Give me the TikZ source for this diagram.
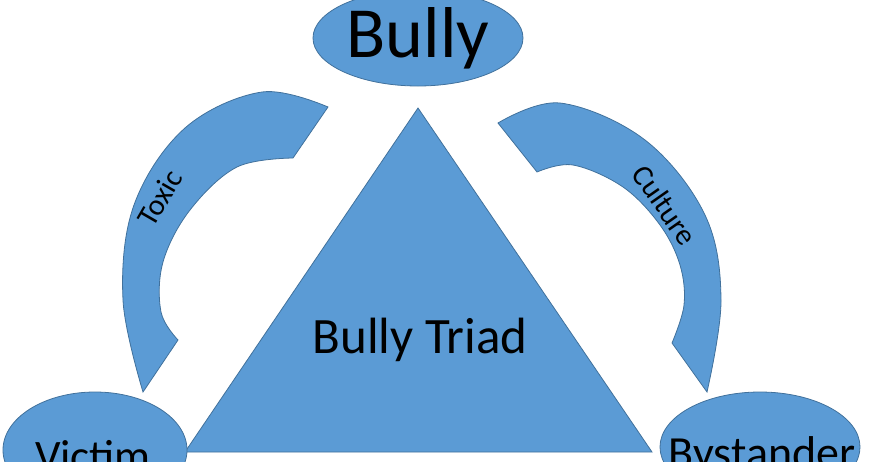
\documentclass[tikz,border=0pt]{standalone}
\usepackage{fontspec}
\setmainfont{Carlito}
\begin{document}
\begin{tikzpicture}[x=1pt,y=-1pt,
  shp/.style={fill=bfill,draw=bline,line width=0.8pt},
]
\definecolor{bfill}{HTML}{5B9BD5}
\definecolor{bline}{HTML}{41719C}
\useasboundingbox (0,0) rectangle (878,461);
\begin{scope}
\clip (0,0) rectangle (878,461);
\draw[shp] (418,108) -- (652,452) -- (185,452) -- cycle;
\draw[shp] plot[smooth,tension=0.6] coordinates {(143,392) (123,300) (134,205) (185,128) (262,92) (328,107)}
  -- plot[smooth,tension=0.6] coordinates {(293,158) (237,167) (190,210) (163,262) (161,312) (178,340)} -- cycle;
\draw[shp] plot[smooth,tension=0.6] coordinates {(498,123) (560,103) (645,140) (705,215) (721,300) (707,392)}
  -- plot[smooth,tension=0.6] coordinates {(672,343) (684,305) (680,265) (660,225) (623,187) (573,165) (537,172)} -- cycle;
\draw[shp] (418,38) ellipse (105 and 48);
\draw[shp] (95,450) ellipse (92 and 58);
\draw[shp] (760,447) ellipse (100 and 55);
\node (bully) at (418,38) {\fontsize{72}{74}\selectfont Bully};
\node (victim) at (93,456) {\fontsize{45}{47}\selectfont Victim};
\node (by) at (762,456) {\fontsize{46}{48}\selectfont Bystander};
\node (triad) at (420,340) {\fontsize{51}{53}\selectfont Bully Triad};
\node[rotate=60] (toxic) at (160,198) {\fontsize{30}{32}\selectfont Toxic};
\node[rotate=-55] (cult) at (665,205) {\fontsize{30}{32}\selectfont Culture};
\end{scope}
\end{tikzpicture}
\end{document}
